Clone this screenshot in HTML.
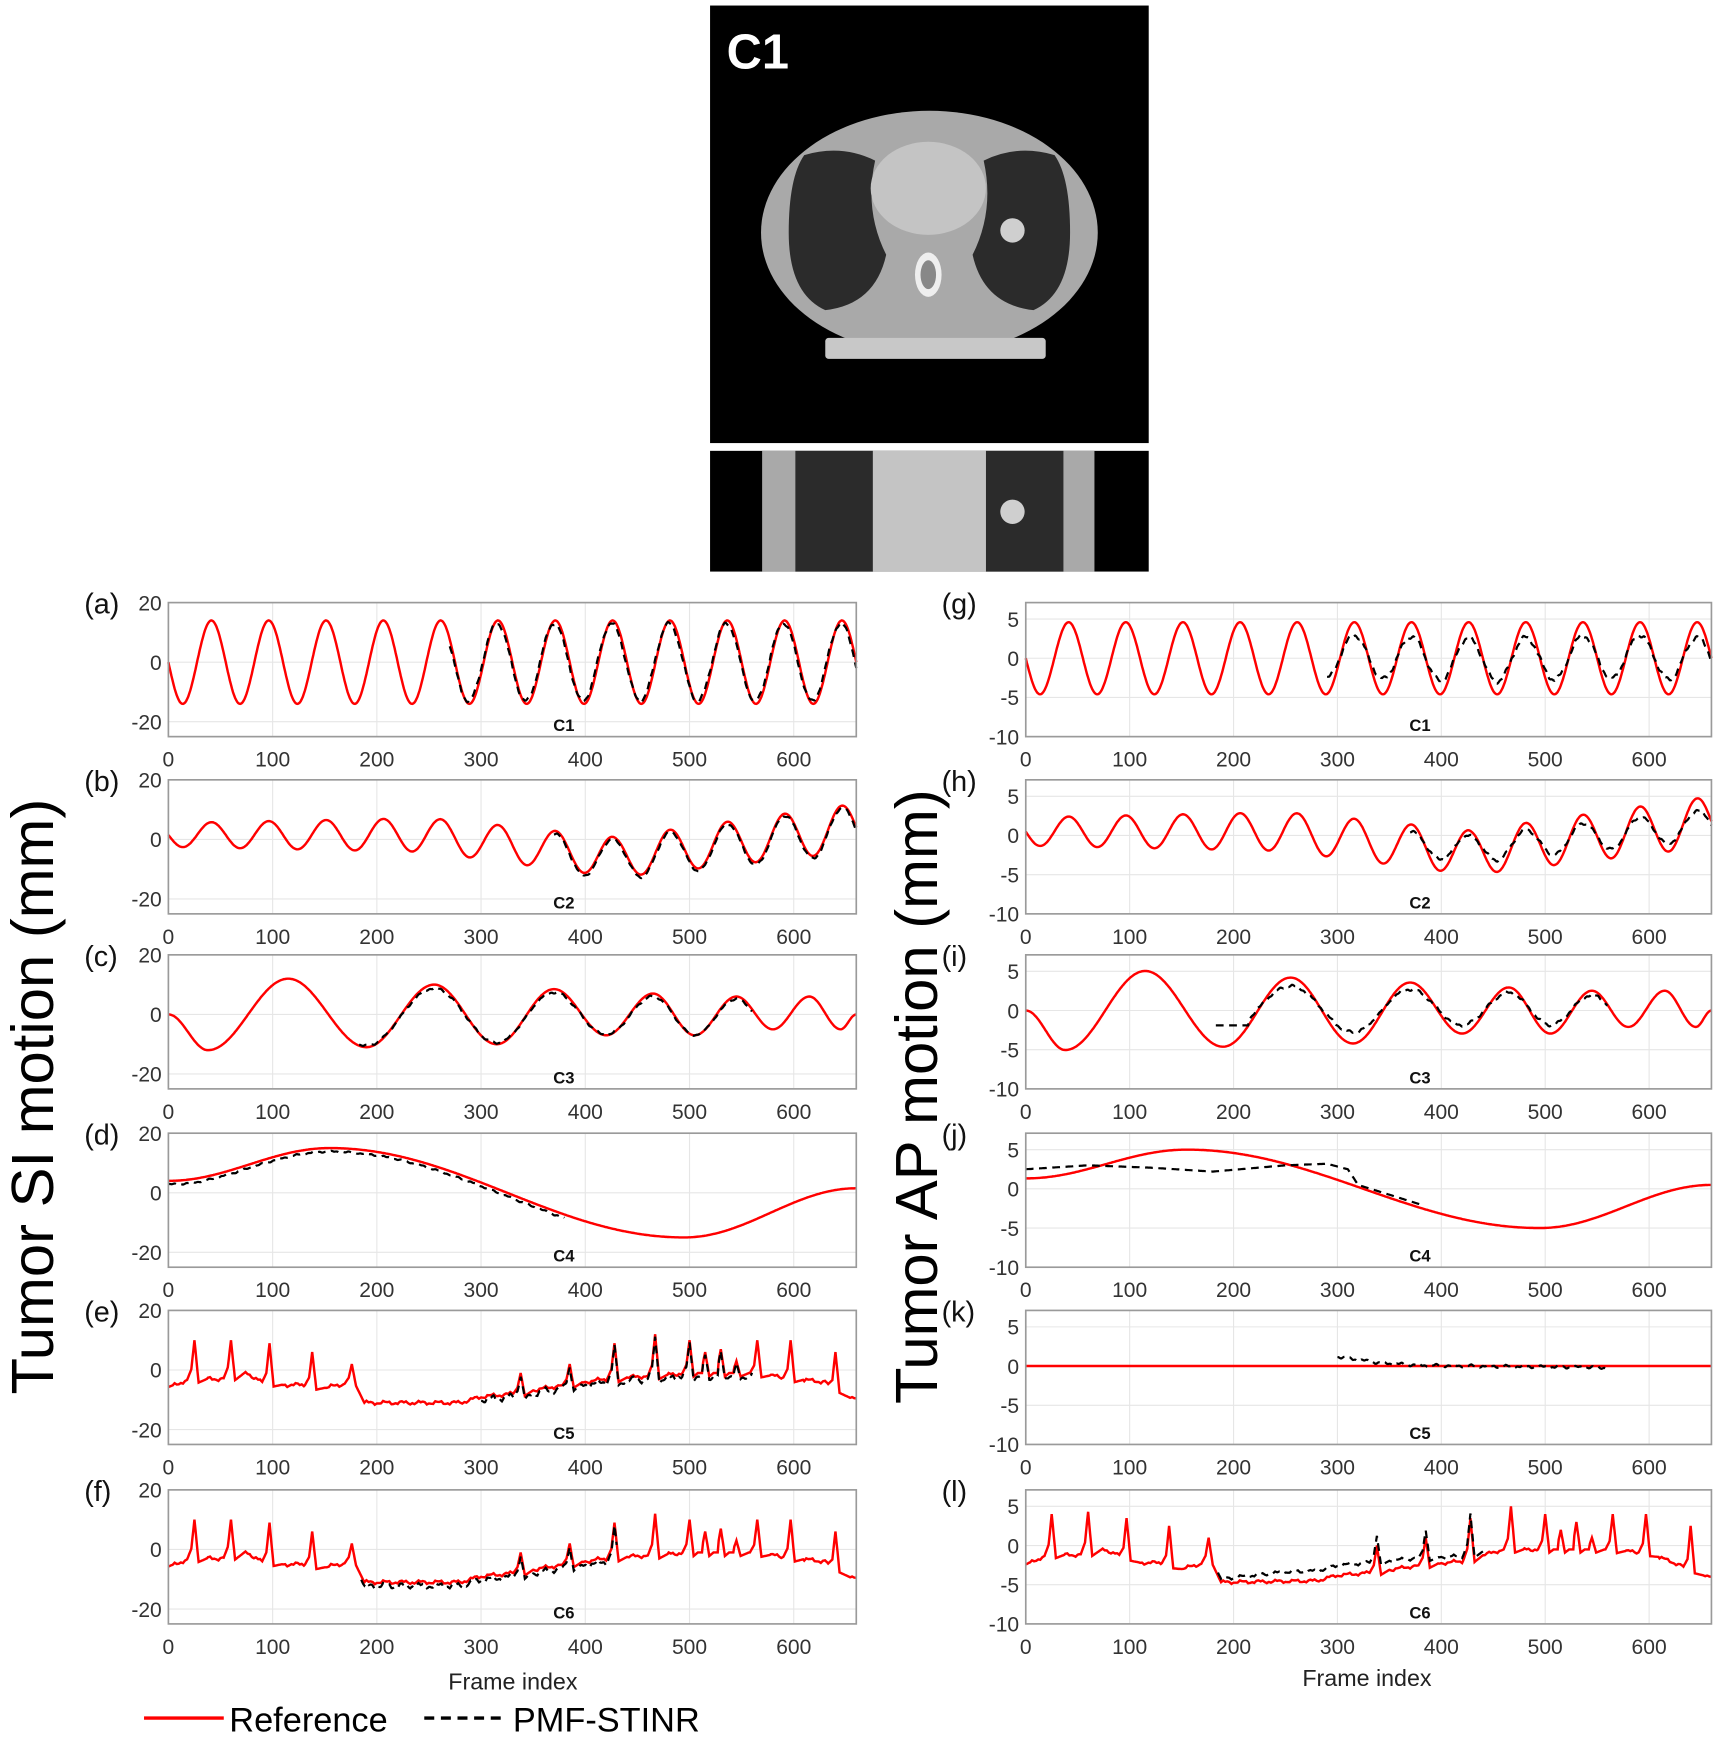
<!DOCTYPE html>
<html><head><meta charset="utf-8">
<style>
html,body{margin:0;padding:0;background:#fff;}
svg{display:block;}
text{font-family:"Liberation Sans",sans-serif;}
</style></head>
<body>
<svg id="s" width="1717" height="1738" viewBox="0 0 1550 1569" xmlns="http://www.w3.org/2000/svg">
<rect x="0" y="0" width="1550" height="1569" fill="#fff"/>
<rect x="641" y="5" width="396" height="395" fill="#000"/>
<ellipse cx="839" cy="210" rx="152" ry="110" fill="#a9a9a9"/>
<rect x="745" y="305" width="199" height="19" rx="3" fill="#c8c8c8"/>
<path d="M726,140 Q760,130 790,145 Q780,190 800,230 Q790,275 745,280 Q712,265 712,210 Q712,160 726,140Z" fill="#2b2b2b"/>
<path d="M952,140 Q918,130 888,145 Q898,190 878,230 Q888,275 933,280 Q966,265 966,210 Q966,160 952,140Z" fill="#2b2b2b"/>
<ellipse cx="838" cy="170" rx="52" ry="42" fill="#c4c4c4"/>
<ellipse cx="914" cy="208" rx="11" ry="11" fill="#cfcfcf"/>
<ellipse cx="838" cy="248" rx="12" ry="20" fill="#eee"/>
<ellipse cx="838" cy="248" rx="7" ry="13" fill="#888"/>
<text x="656" y="62" font-size="44" font-weight="bold" fill="#fff">C1</text>
<rect x="641" y="407" width="396" height="109" fill="#000"/>
<rect x="688" y="407" width="300" height="109" fill="#a9a9a9"/>
<rect x="718" y="407" width="70" height="109" fill="#2b2b2b"/>
<rect x="890" y="407" width="70" height="109" fill="#2b2b2b"/>
<rect x="788" y="407" width="102" height="109" fill="#c4c4c4"/>
<ellipse cx="914" cy="462" rx="11" ry="11" fill="#cfcfcf"/>
<g id="plots"></g>
<text transform="translate(48,990) rotate(-90)" text-anchor="middle" font-size="54" fill="#000">Tumor SI motion (mm)</text>
<text transform="translate(846,990) rotate(-90)" text-anchor="middle" font-size="54" fill="#000">Tumor AP motion (mm)</text>
<text x="463" y="1525" text-anchor="middle" font-size="21" fill="#222">Frame index</text>
<text x="1234" y="1522" text-anchor="middle" font-size="21" fill="#222">Frame index</text>
<line x1="130" y1="1551" x2="202" y2="1551" stroke="#f00" stroke-width="3"/>
<text x="207" y="1563" font-size="31" fill="#000">Reference</text>
<line x1="383" y1="1551" x2="457" y2="1551" stroke="#000" stroke-width="3" stroke-dasharray="9,6"/>
<text x="463" y="1563" font-size="31" fill="#000">PMF-STINR</text>
</svg>
<script>
(function(){
var NS="http://www.w3.org/2000/svg";
var G=document.getElementById("plots");
function el(t,a,txt){var e=document.createElementNS(NS,t);for(var k in a){e.setAttribute(k,String(a[k]));}if(typeof txt==="string"){e.appendChild(document.createTextNode(txt));}G.appendChild(e);return e;}
function cosi(pts){return function(x){if(x<=pts[0][0])return pts[0][1];for(var i=1;i<pts.length;i++){if(x<=pts[i][0]){var a=pts[i-1],b=pts[i],t=(x-a[0])/(b[0]-a[0]);return a[1]+(b[1]-a[1])*(1-Math.cos(Math.PI*t))/2;}}return pts[pts.length-1][1];};}
function lin(pts){return function(x){if(x<=pts[0][0])return pts[0][1];for(var i=1;i<pts.length;i++){if(x<=pts[i][0]){var a=pts[i-1],b=pts[i];var dx=b[0]-a[0];if(dx<=0)return b[1];var t=(x-a[0])/dx;return a[1]+(b[1]-a[1])*t;}}return pts[pts.length-1][1];};}
function noise(x,s){return s*(Math.sin(x*0.37)*0.6+Math.sin(x*1.13+1)*0.4);}
function spiky(base,peaks,sc){
 var bf=lin(base);var all=[];var x,i,j;
 for(x=0;x<=660;x+=2){var ok=true;for(j=0;j<peaks.length;j++){if(x>=peaks[j][0]-7&&x<=peaks[j][0]+12){ok=false;}}if(ok)all.push([x,bf(x)+noise(x,sc*0.25)]);}
 for(j=0;j<peaks.length;j++){var p=peaks[j][0],h=peaks[j][1];
  all.push([p-7,bf(p-7)]);all.push([p-3,bf(p)+(h-bf(p))*0.25]);all.push([p,h]);all.push([p+4,bf(p)-sc*0.4]);all.push([p+12,bf(p+12)]);}
 all.sort(function(a,b){return a[0]-b[0];});return lin(all);}
function panel(o){
 var L=o.L,T=o.T,W=o.W,H=121,ymin=o.ymin,ymax=o.ymax,x,i;
 function px(v){return L+v/660*W;} function py(v){return T+(ymax-v)/(ymax-ymin)*H;}
 for(x=100;x<=600;x+=100)el("line",{x1:px(x),y1:T,x2:px(x),y2:T+H,stroke:"#e6e6e6","stroke-width":1});
 for(i=0;i<o.yt.length;i++){var v=o.yt[i];el("line",{x1:L,y1:py(v),x2:L+W,y2:py(v),stroke:"#e6e6e6","stroke-width":1});
  el("text",{x:L-6,y:py(v)+7,"text-anchor":"end","font-size":19,fill:"#333"},String(v));}
 for(x=0;x<=600;x+=100)el("text",{x:px(x),y:T+H+27,"text-anchor":"middle","font-size":19,fill:"#333"},String(x));
 el("text",{x:L-76,y:T+10,"font-size":26,fill:"#111"},o.lab);
 el("text",{x:L+W*0.575,y:T+H-5,"text-anchor":"middle","font-size":15,"font-weight":"bold",fill:"#111"},o.c);
 for(i=0;i<o.s.length;i++){var s=o.s[i];var d="";
  for(x=s.a;x<=s.b;x+=1){var y=s.f(x);if(!isFinite(y))continue;y=Math.max(ymin,Math.min(ymax,y));d+=(d===""?"M":"L")+px(x).toFixed(1)+","+py(y).toFixed(1);}
  var at={d:d,fill:"none",stroke:s.k?"#000":"#f00","stroke-width":s.k?2:2.2};if(s.k)at["stroke-dasharray"]="7,5";el("path",at);}
 el("rect",{x:L,y:T,width:W,height:H,fill:"none",stroke:"#9a9a9a","stroke-width":1.5});
}
function safe(o){try{panel(o);}catch(e){}}
var tops=[544,704,862,1023,1183,1345];
var LL=152,LW=621,RL=926,RW=619;
var fa=function(x){return -14*Math.sin(2*Math.PI*x/55);};
var cb=lin([[0,1.5],[250,1.5],[430,-6],[660,4]]),ab=lin([[0,4],[300,6],[660,8]]);
var fb=function(x){return cb(x)-ab(x)*Math.sin(2*Math.PI*x/55);};
var fc=cosi([[0,0],[38,-12],[115,12],[190,-11],[255,10],[315,-10],[370,8.5],[420,-7],[465,7],[505,-7],[545,6],[580,-5],[615,6],[645,-5],[660,0]]);
var fd=cosi([[0,4],[155,15],[495,-15],[660,1.5]]);
var fe=spiky([[0,-6],[20,-3],[40,-3],[50,-3],[75,-1],[90,-4],[110,-5],[130,-5],[150,-6],[178,-4],[184,-11],[280,-11],[300,-9],[330,-8],[380,-5],[420,-3],[460,-2],[500,-1],[560,-1],[600,-3],[630,-4],[650,-9],[660,-9]],
 [[25,10],[60,10],[97,9],[138,6],[176,2],[338,-1],[385,2],[428,9],[467,12],[500,10],[515,6],[530,7],[545,3],[565,10],[597,10],[640,6]],3);
var fl=spiky([[0,-2.5],[20,-1.2],[50,-1.2],[75,-0.5],[90,-1.2],[110,-2.2],[130,-2.2],[150,-3],[178,-2],[184,-4.7],[280,-4.5],[300,-3.8],[330,-3.5],[380,-2.5],[420,-2],[460,-0.5],[500,-0.5],[560,-0.5],[600,-1],[630,-2.5],[650,-3.8],[660,-3.8]],
 [[25,4],[60,4.3],[97,3.5],[138,2.5],[176,1],[338,0],[385,1],[428,3.5],[467,5],[500,4],[515,2],[530,3],[545,1],[565,4],[597,4],[640,2.5]],1);
var YL=[20,0,-20],YR=[5,0,-5,-10];
safe({L:LL,T:tops[0],W:LW,ymin:-25,ymax:20,yt:YL,lab:"(a)",c:"C1",s:[{a:0,b:660,f:fa},{a:270,b:660,k:1,f:function(x){return 0.93*fa(x+1)+noise(x,0.6);}}]});
safe({L:LL,T:tops[1],W:LW,ymin:-25,ymax:20,yt:YL,lab:"(b)",c:"C2",s:[{a:0,b:660,f:fb},{a:370,b:660,k:1,f:function(x){return fb(x)-0.8+noise(x,0.4);}}]});
safe({L:LL,T:tops[2],W:LW,ymin:-25,ymax:20,yt:YL,lab:"(c)",c:"C3",s:[{a:0,b:660,f:fc},{a:183,b:560,k:1,f:function(x){return fc(x)*0.92-0.4+noise(x,0.4);}}]});
safe({L:LL,T:tops[3],W:LW,ymin:-25,ymax:20,yt:YL,lab:"(d)",c:"C4",s:[{a:0,b:660,f:fd},{a:0,b:380,k:1,f:function(x){return fd(x)-1.2+noise(x,0.3);}}]});
safe({L:LL,T:tops[4],W:LW,ymin:-25,ymax:20,yt:YL,lab:"(e)",c:"C5",s:[{a:0,b:660,f:fe},{a:300,b:560,k:1,f:function(x){return fe(x)-1+noise(x,0.6);}}]});
safe({L:LL,T:tops[5],W:LW,ymin:-25,ymax:20,yt:YL,lab:"(f)",c:"C6",s:[{a:0,b:660,f:fe},{a:185,b:430,k:1,f:function(x){return fe(x)-1.2+noise(x,0.4);}}]});
var fg=function(x){return -4.6*Math.sin(2*Math.PI*x/55);};
var ch=lin([[0,0.5],[250,0.5],[430,-2.2],[660,1.8]]),ah=lin([[0,1.8],[300,2.6],[660,3.2]]);
var fh=function(x){return ch(x)-ah(x)*Math.sin(2*Math.PI*x/55);};
var fi=function(x){return fc(x)*0.42;};
var fj=function(x){return fd(x)/3;};
var fjd=lin([[0,2.5],[60,3],[120,2.7],[180,2.2],[250,3],[290,3.2],[310,2.5],[320,0.5],[380,-2]]);
var fkd=lin([[300,1.2],[340,0.4],[380,0.1],[560,-0.2]]);
var fld=lin([[185,0.4],[250,1.2],[330,1.3],[440,0.5]]);
safe({L:RL,T:tops[0],W:RW,ymin:-10,ymax:7.1,yt:YR,lab:"(g)",c:"C1",s:[{a:0,b:660,f:fg},{a:290,b:660,k:1,f:function(x){return 0.6*fg(x)+0.2*Math.sin(x/40)+noise(x,0.3);}}]});
safe({L:RL,T:tops[1],W:RW,ymin:-10,ymax:7.1,yt:YR,lab:"(h)",c:"C2",s:[{a:0,b:660,f:fh},{a:370,b:660,k:1,f:function(x){return ch(x)*0.8-0.6*ah(x)*Math.sin(2*Math.PI*x/55)+noise(x,0.2);}}]});
safe({L:RL,T:tops[2],W:RW,ymin:-10,ymax:7.1,yt:YR,lab:"(i)",c:"C3",s:[{a:0,b:660,f:fi},{a:183,b:560,k:1,f:function(x){return x<215?-1.9:fi(x)*0.7+0.2+noise(x,0.2);}}]});
safe({L:RL,T:tops[3],W:RW,ymin:-10,ymax:7.1,yt:YR,lab:"(j)",c:"C4",s:[{a:0,b:660,f:fj},{a:0,b:380,k:1,f:fjd}]});
safe({L:RL,T:tops[4],W:RW,ymin:-10,ymax:7.1,yt:YR,lab:"(k)",c:"C5",s:[{a:0,b:660,f:function(){return 0;}},{a:300,b:560,k:1,f:function(x){return fkd(x)+noise(x,0.2);}}]});
safe({L:RL,T:tops[5],W:RW,ymin:-10,ymax:7.1,yt:YR,lab:"(l)",c:"C6",s:[{a:0,b:660,f:fl},{a:185,b:440,k:1,f:function(x){return fl(x)+fld(x);}}]});
})();
</script>
</body></html>
